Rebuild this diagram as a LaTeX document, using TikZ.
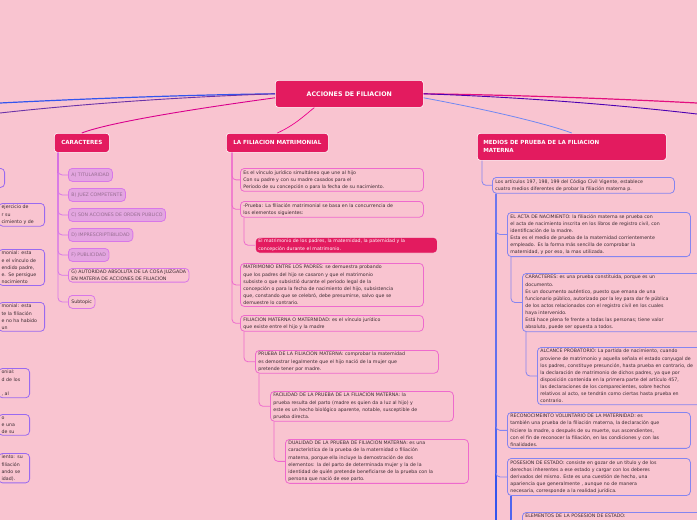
\documentclass[tikz,border=0pt]{standalone}
\usepackage{fontspec}
\setmainfont{DejaVu Sans}
\definecolor{bg}{HTML}{F9C4D0}
\definecolor{hdr}{HTML}{E31B5F}
\definecolor{pk}{HTML}{EE6ACD}
\definecolor{pu}{HTML}{D877E8}
\definecolor{pufill}{HTML}{E3A6E0}
\definecolor{bl}{HTML}{8585F0}
\definecolor{blt}{HTML}{3355EE}
\definecolor{lp}{HTML}{9A6AF0}
\definecolor{txt}{HTML}{3A2A30}
\begin{document}
\begin{tikzpicture}[x=1pt,y=-1pt,
  every node/.style={font=\fontsize{4.7}{7.1}\selectfont, text=txt},
  hdrbox/.style={fill=hdr, draw=white, line width=0.6, rounded corners=3, anchor=north west, align=left, text=white, font=\fontsize{5.6}{8}\selectfont\bfseries, inner xsep=6, inner ysep=0},
  box/.style={draw=#1, line width=0.8, rounded corners=4, anchor=north west, align=left, inner xsep=3, inner ysep=2},
  conn/.style={draw=#1, line width=0.8, rounded corners=4}]
\fill[bg] (0,0) rectangle (697,520);
\useasboundingbox (0,0) rectangle (697,520);
% central
\node[hdrbox, minimum width=148, minimum height=27, align=center, font=\fontsize{6.3}{8}\selectfont\bfseries] (c) at (275,80) {ACCIONES DE FILIACION};
\coordinate (L1) at (0,103); \coordinate (L2) at (0,113);
\coordinate (R1) at (697,103); \coordinate (R2) at (697,114);
\draw[blt, line width=1.2] (c.west) .. controls (180,95) and (80,99) .. (L1);
\draw[blt!60!purple, line width=0.9] (c.west) .. controls (180,97) and (80,104) .. (L2);
\draw[magenta!80!purple, line width=1.2] (c.east) .. controls (520,95) and (620,99) .. (R1);
\draw[purple!40!blue, line width=0.9] (c.east) .. controls (520,97) and (620,105) .. (R2);
% level 1
\node[hdrbox, minimum height=19, inner xsep=7] (car) at (54,133) {CARACTERES};
\node[hdrbox, minimum height=19, inner xsep=7] (mat) at (226,133) {LA FILIACION MATRIMONIAL};
\node[hdrbox, text width=177, minimum height=27, inner ysep=2] (med) at (477,133) {MEDIOS DE PRUEBA DE LA FILIACION\\MATERNA};
\draw[purple!60!magenta, line width=0.9] (c.west) ++(0,4) .. controls (200,108) and (110,122) .. (car.north);
\draw[magenta, line width=0.7] (c.south) ++(-35,0) .. controls (305,115) and (295,125) .. (mat.north);
\draw[blt!70!white, line width=0.8] (c.east) ++(0,4) .. controls (500,112) and (550,125) .. (med.north);
% caracteres
\tikzset{cbox/.style={box=pu, fill=pufill, text=txt!45!pufill, minimum height=13, inner ysep=1}}
\node[cbox] (a) at (68,168) {A) TITULARIDAD};
\node[cbox] (b) at (68,188) {B) JUEZ COMPETENTE};
\node[cbox] (cc) at (68,208) {C) SON ACCIONES DE ORDEN PUBLICO};
\node[cbox] (d) at (68,228) {D) IMPRESCRIPTIBILIDAD};
\node[cbox] (f) at (68,248) {F) PUBLICIDAD};
\node[box=pu, inner ysep=1.5] (g) at (68,268) {G) AUTORIDAD ABSOLUTA DE LA COSA JUZGADA\\EN MATERIA DE ACCIONES DE FILIACION};
\node[box=pu, minimum height=13, inner ysep=1] (st) at (68,295) {Subtopic};
\draw[purple!70!magenta, line width=1.5] (car.south west) ++(4,0) -- ++(0,20);
\foreach \n in {a,b,cc,d,f,g,st}{\draw[conn=pu] (car.south west) ++(4,0) |- (\n.west);}
% matrimonial
\tikzset{mbox/.style={box=pk, text width=177}}
\node[mbox] (m1) at (240,168) {Es el vínculo jurídico simultáneo que une al hijo\\Con su padre y con su madre casados para el\\Periodo de su concepción o para la fecha de su nacimiento.};
\node[mbox] (m2) at (240,201) {-Prueba: La filiación matrimonial se basa en la concurrencia de\\los elementos siguientes:};
\node[box=white, fill=hdr, text=white, text width=176, draw opacity=0.5] (m2a) at (255,237) {El matrimonio de los padres, la maternidad, la paternidad y la\\concepción durante el matrimonio.};
\node[mbox] (m3) at (240,263) {MATRIMONIO ENTRE LOS PADRES: se demuestra probando\\que los padres del hijo se casaron y que el matrimonio\\subsiste o que subsistió durante el periodo legal de la\\concepción o para la fecha de nacimiento del hijo, subsistencia\\que, constando que se celebró, debe presumirse, salvo que se\\demuestre lo contrario.};
\node[mbox] (m4) at (240,315) {FILIACION MATERNA O MATERNIDAD: es el vínculo jurídico\\que existe entre el hijo y la madre};
\node[mbox] (m5) at (255,350) {PRUEBA DE LA FILIACION MATERNA: comprobar la maternidad\\es demostrar legalmente que el hijo nació de la mujer que\\pretende tener por madre.};
\node[mbox] (m6) at (270,391) {FACILIDAD DE LA PRUEBA DE LA FILIACION MATERNA: la\\prueba resulta del parto (madre es quien da a luz al hijo) y\\este es un hecho biológico aparente, notable, susceptible de\\prueba directa.};
\node[mbox] (m7) at (285,439) {DUALIDAD DE LA PRUEBA DE FILIACION MATERNA: es una\\característica de la prueba de la maternidad o filiación\\materna, porque ella incluye la demostración de dos\\elementos: la del parto de determinada mujer y la de la\\identidad de quién pretende beneficiarse de la prueba con la\\persona que nació de ese parto.};
\foreach \n in {m1,m2,m3,m4}{\draw[conn=pk] (mat.south west) ++(6,0) |- (\n.west);}
\draw[conn=pk] (m2.south west) ++(4,0) |- (m2a.west);
\draw[conn=pk] (m4.south west) ++(4,0) |- (m5.west);
\draw[conn=pk] (m5.south west) ++(4,0) |- (m6.west);
\draw[conn=pk] (m6.south west) ++(4,0) |- (m7.west);
% medios
\tikzset{bbox/.style={box=bl, text width=177}}
\node[box=bl, text width=176] (p0) at (492,177) {Los artículos 197, 198, 199 del Código Civil Vigente, establece\\cuatro medios diferentes de probar la filiación materna p.};
\node[bbox] (p1) at (507,212) {EL ACTA DE NACIMIENTO: la filiación materna se prueba con\\el acta de nacimiento inscrita en los libros de registro civil, con\\identificación de la madre.\\Esta es el medio de prueba de la maternidad corrientemente\\empleado. Es la forma más sencilla de comprobar la\\maternidad, y por eso, la mas utilizada.};
\node[bbox] (p2) at (522,273) {CARACTERES: es una prueba constituida, porque es un\\documento.\\Es un documento auténtico, puesto que emana de una\\funcionario público, autorizado por la ley para dar fe pública\\de los actos relacionados con el registro civil en los cuales\\haya intervenido.\\Está hace plena fe frente a todas las personas; tiene valor\\absoluto, puede ser opuesta a todos.};
\node[bbox, text width=190] (p3) at (537,347) {ALCANCE PROBATORIO: La partida de nacimiento, cuando\\proviene de matrimonio y aquella señala el estado conyugal de\\los padres, constituye presunción, hasta prueba en contrario, de\\la declaración de matrimonio de dichos padres, ya que por\\disposición contenida en la primera parte del artículo 457,\\las declaraciones de los comparecientes, sobre hechos\\relativos al acto, se tendrán como ciertas hasta prueba en\\contrario.};
\node[bbox] (p4) at (507,412) {RECONOCIMEINTO VOLUNTARIO DE LA MATERNIDAD: es\\también una prueba de la filiación materna, la declaración que\\hiciere la madre, o después de su muerte, sus ascendientes,\\con el fin de reconocer la filiación, en las condiciones y con las\\finalidades.};
\node[bbox] (p5) at (507,458) {POSESION DE ESTADO: consiste en gozar de un título y de los\\derechos inherentes a ese estado y cargar con los deberes\\derivados del mismo. Este es una cuestión de hecho, una\\apariencia que generalmente , aunque no de manera\\necesaria, corresponde a la realidad jurídica.};
\node[bbox, text width=190] (p6) at (522,512) {ELEMENTOS DE LA POSESION DE ESTADO:\\\mbox{}\\\mbox{}};
\draw[conn=bl] (med.south west) ++(5,0) |- (p0.west);
\draw[blt, line width=1.4] (p0.south west) ++(4,0) -- ++(0,330);
\foreach \n in {p1,p4,p5}{\draw[conn=bl] (p0.south west) ++(4,0) |- (\n.west);}
\draw[conn=bl] (p1.south west) ++(4,0) |- (p2.west);
\draw[conn=bl] (p2.south west) ++(4,0) |- (p3.west);
\draw[blt, line width=1.4] (p5.south west) ++(4,0) -- ++(0,40);
\draw[conn=bl] (p5.south west) ++(4,0) |- (p6.west);
% left partial boxes
\tikzset{lbox/.style={box=lp, anchor=north east, align=left}}
\node[lbox, minimum height=19, text width=4] (l1) at (5,168) {\mbox{}};
\node[lbox, text width=40] (l2) at (45,203) {ejercicio de\\r su\\cimiento y de};
\node[lbox, text width=40] (l3) at (45,249) {monial: esta\\e el vínculo de\\endido padre,\\e. Se persigue\\nocimiento};
\node[lbox, text width=40] (l4) at (45,302) {monial: esta\\te la filiación\\e no ha habido\\un};
\node[lbox, text width=25] (l5) at (30,368) {onial:\\d de los\\\mbox{}\\, al};
\node[lbox, text width=25] (l6) at (30,414) {o\\e una\\ de su};
\node[lbox, text width=25] (l7) at (30,453) {iento: su\\filiación\\ando se\\idad).};
\end{tikzpicture}
\end{document}
